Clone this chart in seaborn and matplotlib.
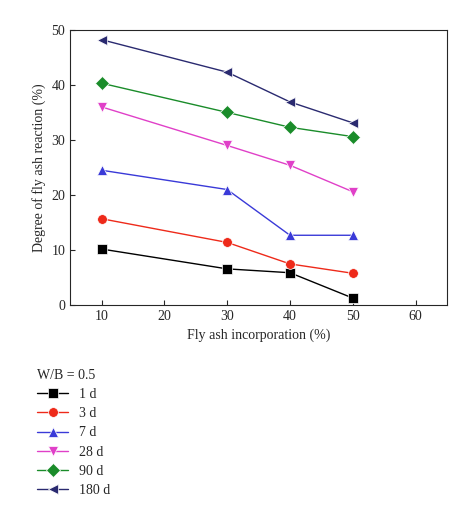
import pandas as pd
import matplotlib.pyplot as plt
import seaborn as sns

incorporation = [10, 30, 40, 50]
ages = ["1 d", "3 d", "7 d", "28 d", "90 d", "180 d"]
d1 = [10.2, 6.6, 5.9, 1.3]
d3 = [15.7, 11.4, 7.5, 5.8]
d7 = [24.5, 21.0, 12.7, 12.7]
d28 = [36.0, 29.0, 25.4, 20.6]
d90 = [40.3, 35.0, 32.3, 30.6]
d180 = [48.2, 42.3, 36.9, 33.1]

rows = []
for age, vals in zip(ages, [d1, d3, d7, d28, d90, d180]):
    for x, v in zip(incorporation, vals):
        rows.append({"x": x, "y": v, "age": age})
df = pd.DataFrame(rows)

sns.set_style("ticks")
plt.rcParams["font.family"] = ["Liberation Serif", "DejaVu Serif"]

colors = ["#000000", "#ee2a1a", "#3a3ad8", "#e040c8", "#1a8c2a", "#2a2a70"]
markers = ["s", "o", "^", "v", "D", "<"]

fig = plt.figure(figsize=(4.74, 5.13), dpi=100)
ax = fig.add_axes([0.148, 0.405, 0.795, 0.537])
sns.lineplot(data=df, x="x", y="y", hue="age", style="age", palette=colors,
             markers=markers, dashes=False, markersize=7, linewidth=1,
             markeredgewidth=0.5, ax=ax)
ax.set_xlim(5, 65)
ax.set_ylim(0, 50)
ax.set_xticks([10, 20, 30, 40, 50, 60])
ax.set_yticks([0, 10, 20, 30, 40, 50])
ax.tick_params(direction="in", labelsize=10)
ax.set_xlabel("Fly ash incorporation (%)", fontsize=10)
ax.set_ylabel("Degree of fly ash reaction (%)", fontsize=10)
for s in ax.spines.values():
    s.set_linewidth(0.8)

h, l = ax.get_legend_handles_labels()
ax.legend(h, l, title="W/B = 0.5", loc="upper left", bbox_to_anchor=(-0.12, -0.185),
          frameon=False, fontsize=10, title_fontsize=10, labelspacing=0.45,
          handlelength=2.2, alignment="left")

fig.savefig("out.png", dpi=100)
